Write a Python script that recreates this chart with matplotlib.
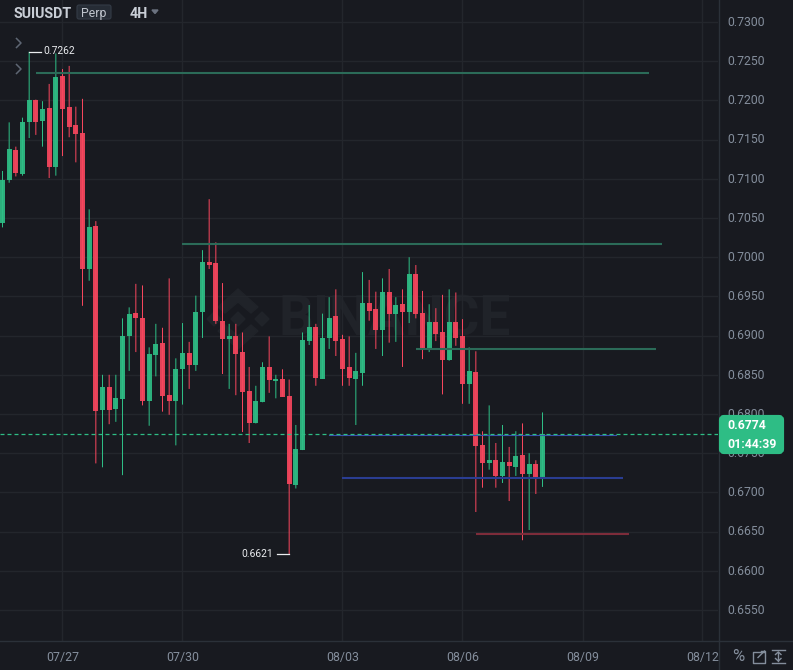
import numpy as np
import matplotlib
matplotlib.use("Agg")
import matplotlib.pyplot as plt
from matplotlib.patches import FancyBboxPatch, Polygon

plt.rcParams['font.family'] = ['Roboto', 'DejaVu Sans']

# 4H candles
opens = [0.7044, 0.7098, 0.7137, 0.7106, 0.7172, 0.7200, 0.7174, 0.7190, 0.7115, 0.7231,
         0.7191, 0.7168, 0.7158, 0.6985, 0.7040, 0.6805, 0.6834, 0.6806, 0.6819, 0.6899,
         0.6929, 0.6922, 0.6817, 0.6875, 0.6890, 0.6824, 0.6817, 0.6857, 0.6878, 0.6863,
         0.6930, 0.6994, 0.6992, 0.6918, 0.6896, 0.6899, 0.6879, 0.6829, 0.6789, 0.6815,
         0.6860, 0.6842, 0.6845, 0.6823, 0.6710, 0.6754, 0.6893, 0.6911, 0.6845, 0.6897,
         0.6925, 0.6896, 0.6860, 0.6845, 0.6852, 0.6942, 0.6934, 0.6907, 0.6956, 0.6928,
         0.6940, 0.6930, 0.6979, 0.6929, 0.6882, 0.6917, 0.6905, 0.6869, 0.6917, 0.6899,
         0.6838, 0.6854, 0.6760, 0.6737, 0.6741, 0.6721, 0.6739, 0.6732, 0.6748, 0.6724,
         0.6736, 0.6718]
highs = [0.7110, 0.7172, 0.7141, 0.7178, 0.7262, 0.7201, 0.7199, 0.7221, 0.7260, 0.7240,
         0.7244, 0.7192, 0.7202, 0.7061, 0.7046, 0.6850, 0.6850, 0.6850, 0.6922, 0.6936,
         0.6966, 0.6964, 0.6885, 0.6915, 0.6910, 0.6973, 0.6871, 0.6916, 0.6892, 0.6951,
         0.7009, 0.7074, 0.7019, 0.6967, 0.6915, 0.6915, 0.6904, 0.6860, 0.6836, 0.6866,
         0.6899, 0.6850, 0.6857, 0.6844, 0.6786, 0.6904, 0.6939, 0.6915, 0.6928, 0.6949,
         0.6959, 0.6901, 0.6899, 0.6878, 0.6981, 0.6971, 0.6956, 0.6973, 0.6985, 0.6949,
         0.6959, 0.7000, 0.6990, 0.6957, 0.6940, 0.6935, 0.6952, 0.6959, 0.6955, 0.6921,
         0.6885, 0.6880, 0.6778, 0.6811, 0.6763, 0.6786, 0.6758, 0.6778, 0.6788, 0.6750,
         0.6741, 0.6802]
lows = [0.7038, 0.7095, 0.7103, 0.7104, 0.7152, 0.7156, 0.7141, 0.7101, 0.7104, 0.7129,
        0.7153, 0.7121, 0.6938, 0.6970, 0.6737, 0.6732, 0.6787, 0.6790, 0.6722, 0.6855,
        0.6879, 0.6811, 0.6785, 0.6848, 0.6803, 0.6799, 0.6760, 0.6812, 0.6832, 0.6855,
        0.6897, 0.6985, 0.6915, 0.6851, 0.6832, 0.6824, 0.6777, 0.6763, 0.6788, 0.6815,
        0.6827, 0.6820, 0.6822, 0.6621, 0.6705, 0.6754, 0.6888, 0.6836, 0.6845, 0.6883,
        0.6874, 0.6836, 0.6836, 0.6786, 0.6836, 0.6919, 0.6883, 0.6874, 0.6891, 0.6892,
        0.6860, 0.6916, 0.6922, 0.6870, 0.6879, 0.6893, 0.6825, 0.6868, 0.6887, 0.6813,
        0.6813, 0.6675, 0.6706, 0.6729, 0.6706, 0.6712, 0.6689, 0.6721, 0.6639, 0.6652,
        0.6698, 0.6707]
closes = [0.7099, 0.7138, 0.7108, 0.7173, 0.7200, 0.7173, 0.7189, 0.7115, 0.7230, 0.7189,
          0.7166, 0.7157, 0.6985, 0.7039, 0.6804, 0.6834, 0.6805, 0.6820, 0.6900, 0.6928,
          0.6922, 0.6817, 0.6877, 0.6889, 0.6823, 0.6816, 0.6857, 0.6878, 0.6862, 0.6930,
          0.6994, 0.6990, 0.6918, 0.6896, 0.6899, 0.6877, 0.6828, 0.6789, 0.6817, 0.6860,
          0.6843, 0.6845, 0.6822, 0.6711, 0.6755, 0.6894, 0.6911, 0.6846, 0.6897, 0.6923,
          0.6893, 0.6858, 0.6846, 0.6855, 0.6942, 0.6931, 0.6907, 0.6955, 0.6927, 0.6939,
          0.6930, 0.6979, 0.6927, 0.6882, 0.6917, 0.6902, 0.6869, 0.6917, 0.6897, 0.6838,
          0.6855, 0.6759, 0.6737, 0.6741, 0.6721, 0.6739, 0.6734, 0.6746, 0.6723, 0.6736,
          0.6718, 0.6774]

date_labels = ['07/27', '07/30', '08/03', '08/06', '08/09', '08/12']
date_ticks = [9, 27, 51, 69, 87, 105]   # candle numbers
price_ticks = [0.7300, 0.7250, 0.7200, 0.7150, 0.7100, 0.7050, 0.7000, 0.6950, 0.6900,
               0.6850, 0.6800, 0.6750, 0.6700, 0.6650, 0.6600, 0.6550]
last_price = 0.6774
countdown = '01:44:39'

# drawn levels: price, first candle, last candle
green_levels = [(0.7235, 5, 97), (0.7017, 27, 99), (0.6883, 62, 98)]
blue_level = (0.6718, 51, 93)
red_level = (0.6647, 71, 94)
thin_level = (0.6773, 49, 92)

BG = '#181a20'
GRID = '#23262c'
UP = '#2ebd85'
DOWN = '#f6465d'
MUTED = '#848e9c'

fig = plt.figure(figsize=(7.93, 6.70), dpi=100, facecolor=BG)
ax = fig.add_axes([0, 29 / 670, 718 / 793, 641 / 670], facecolor=BG)
ax.set_xlim(-0.375, 107.325)
ax.set_ylim(0.68 - 227 / 7840, 0.68 + 414 / 7840)
for s in ax.spines.values():
    s.set_visible(False)
ax.set_xticks(date_ticks)
ax.set_yticks(price_ticks)
ax.tick_params(length=0, labelbottom=False, labelleft=False)
ax.grid(True, color=GRID, lw=1.0)
ax.set_axisbelow(True)

# overlay in image pixels for the chrome around the chart
over = fig.add_axes([0, 0, 1, 1], facecolor='none')
over.set_xlim(0, 793)
over.set_ylim(670, 0)
over.axis('off')
pix = over.transData

# watermark
WM = '#202329'
ax.text(278, 320, 'BINANCE', transform=pix, color=WM, fontsize=39.5, fontweight='bold',
        va='center', ha='left', zorder=0.5)
for cx, cy, r in [(238, 319, 7), (214, 319, 7), (262, 319, 7)]:
    ax.add_patch(Polygon([(cx, cy - r), (cx + r, cy), (cx, cy + r), (cx - r, cy)],
                         transform=pix, color=WM, zorder=0.5))
ax.add_patch(Polygon([(238, 289), (258, 307), (251, 313), (238, 302), (225, 313), (218, 307)],
                     transform=pix, color=WM, zorder=0.5))
ax.add_patch(Polygon([(238, 349), (258, 331), (251, 325), (238, 336), (225, 325), (218, 331)],
                     transform=pix, color=WM, zorder=0.5))

o = np.array(opens)
h = np.array(highs)
l = np.array(lows)
c = np.array(closes)
x = np.arange(len(o))
colors = [UP if cc >= oo else DOWN for oo, cc in zip(o, c)]

wicks = ax.vlines(x, l, h, colors=colors, linewidth=0.72, zorder=3)
wicks.set_snap(False)
ax.bar(x, np.maximum(np.abs(c - o), 0.0002), bottom=np.minimum(o, c), width=0.72,
       color=colors, zorder=4, alpha=0.92)

# levels
for p, a, b in green_levels:
    ax.plot([a, b], [p, p], color='#2b6b58', lw=1.5, zorder=5, solid_capstyle='butt')
ax.plot(blue_level[1:], [blue_level[0]] * 2, color='#2a3d92', lw=1.5, zorder=5, solid_capstyle='butt')
ax.plot(red_level[1:], [red_level[0]] * 2, color='#7d2c3a', lw=1.5, zorder=5, solid_capstyle='butt')
ax.plot(thin_level[1:], [thin_level[0]] * 2, color='#3a4fb0', lw=0.8, zorder=5)
ax.axhline(last_price, color=UP, lw=0.9, dashes=(3.2, 2.4), zorder=6)

# high / low labels with their small dashes
hi = int(np.argmax(h))
lo = int(np.argmin(l))
ax.plot([hi, hi + 1.8], [h[hi], h[hi]], color='#eaecef', lw=0.9, zorder=7)
ax.plot([lo - 1.8, lo], [l[lo], l[lo]], color='#eaecef', lw=0.9, zorder=7)
ax.annotate('%.4f' % h[hi], (hi + 1.8, h[hi]), xytext=(2, 0.5), textcoords='offset pixels',
            color='#eaecef', fontsize=7.4, va='center', ha='left', zorder=7)
ax.annotate('%.4f' % l[lo], (lo - 1.8, l[lo]), xytext=(-4, 0), textcoords='offset pixels',
            color='#eaecef', fontsize=7.4, va='center', ha='right', zorder=7)

# price axis
over.plot([718.5, 718.5], [0, 670], color='#2b3139', lw=1.0)
over.plot([0, 793], [641, 641], color='#2b3139', lw=1.0)
for p in price_ticks:
    y = 414 + (0.68 - p) * 7840
    over.text(727, y + 0.3, '%.4f' % p, color=MUTED, fontsize=8.8, va='center', ha='left')

# date axis
for lab, t in zip(date_labels, date_ticks):
    over.text(2.5 + t * 20 / 3, 657, lab, color=MUTED, fontsize=8.9, va='center', ha='center')

# last price tag
over.add_patch(FancyBboxPatch((721, 417), 61, 35, boxstyle='round,pad=0,rounding_size=3',
                              fc=UP, ec=UP, lw=3, zorder=8))
over.text(727, 425.5, '%.4f' % last_price, color='white', fontsize=8.8, fontweight='bold',
          va='center', ha='left', zorder=9)
over.text(727, 444, countdown, color='white', fontsize=8.8, fontweight='bold',
          va='center', ha='left', zorder=9)

# header
over.text(14, 14, 'SUIUSDT', color='#c9ced6', fontsize=10.3, fontweight='bold', va='center')
over.add_patch(FancyBboxPatch((77, 5), 34, 14, boxstyle='round,pad=0,rounding_size=2',
                              fc='#262c35', ec='#343b46', lw=0.8))
over.text(94, 13, 'Perp', color='#c0c5cd', fontsize=8.8, va='center', ha='center')
over.text(130, 14, '4H', color='#c9ced6', fontsize=10.3, fontweight='bold', va='center')
over.add_patch(Polygon([(152, 10), (158, 10), (155, 13.5)], color='#6b7280'))

# side chevrons
for cy in (43, 69):
    over.plot([16.5, 21, 16.5], [cy - 4.5, cy, cy + 4.5], color='#5e6673', lw=1.1)

# bottom right buttons
over.text(738, 656.5, '%', color=MUTED, fontsize=12, va='center', ha='center')
over.plot([764, 752.5, 752.5, 764.5, 764.5], [651.5, 651.5, 663, 663, 656], color=MUTED, lw=1.0)
over.plot([758, 764.5], [657.5, 651], color=MUTED, lw=1.0)
over.plot([760.5, 765, 765], [651, 651, 655], color=MUTED, lw=1.0)
over.plot([771.5, 785], [650, 650], color=MUTED, lw=1.0)
over.plot([771.5, 785], [663, 663], color=MUTED, lw=1.0)
over.plot([778.3, 778.3], [652, 661], color=MUTED, lw=1.0)
over.plot([775.5, 778.3, 781], [654.5, 652, 654.5], color=MUTED, lw=1.0)
over.plot([775.5, 778.3, 781], [658.5, 661, 658.5], color=MUTED, lw=1.0)

fig.savefig('out.png', dpi=100, facecolor=BG)
